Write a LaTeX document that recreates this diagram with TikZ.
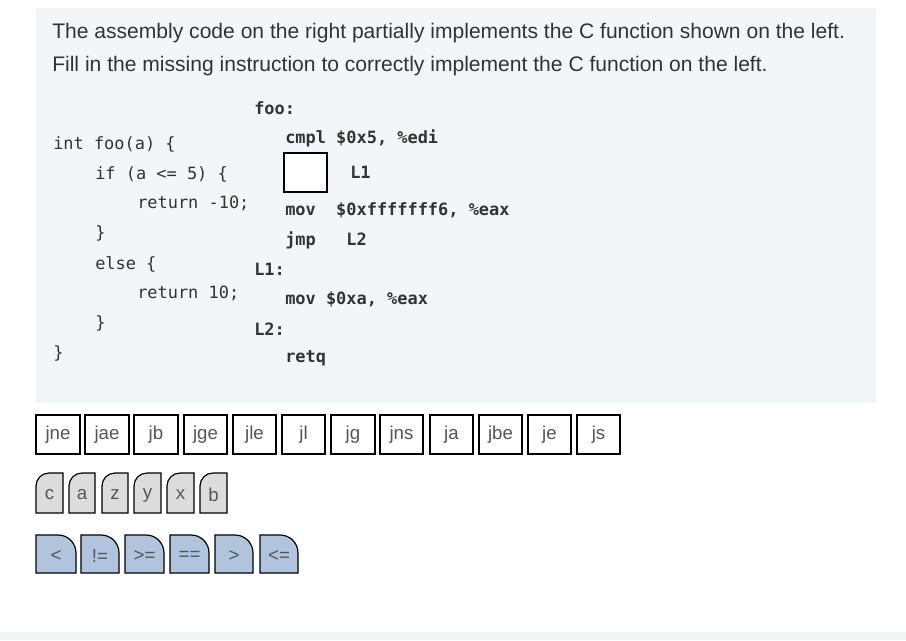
\documentclass[tikz,border=0pt]{standalone}
\usepackage{fontspec}
\setmainfont{Liberation Sans}
\setmonofont{DejaVu Sans Mono}
\definecolor{panel}{HTML}{F3F6F9}
\definecolor{txt}{HTML}{333333}
\definecolor{btxt}{HTML}{555555}
\definecolor{gtile}{HTML}{DCDCDC}
\definecolor{btile}{HTML}{B0C4DE}
\tikzset{
  title/.style={anchor=west,text=txt,font=\fontsize{15.8pt}{18pt}\selectfont,inner sep=0},
  code/.style={anchor=west,text=txt,font=\ttfamily\fontsize{12.7pt}{14pt}\selectfont,inner sep=0},
  asm/.style={code,font=\ttfamily\bfseries\fontsize{12.7pt}{14pt}\selectfont},
  lbl/.style={text=btxt,font=\fontsize{14pt}{16pt}\selectfont,inner sep=0},
  tile/.style={black,line width=0.9pt},
}
\newcommand\jbtn[4]{\draw[tile,fill=white] (#1,415) rectangle (#2,454);
  \node[lbl] (#4) at ({(#1+#2)/2},434.5) {#3};}
\newcommand\gbtn[4]{\draw[tile,fill=gtile] (#1,513) -- (#1,486) .. controls (#1,478.8) and ({#1+5.8},473) .. ({#1+13},473) -- (#2,473) -- (#2,513) -- cycle;
  \node[lbl] (#4) at ({(#1+#2)/2},495) {#3};}
\newcommand\bbtn[4]{\draw[tile,fill=btile] (#1,573) -- (#1,535) -- ({#2-18},535) .. controls ({#2-8},535) and (#2,543) .. (#2,553) -- (#2,573) -- cycle;
  \node[lbl] (#4) at ({(#1+#2)/2},556) {#3};}
\begin{document}
\begin{tikzpicture}[x=0.75pt,y=-0.75pt]
\useasboundingbox (0,0) rectangle (906,640);
\fill[white] (0,0) rectangle (906,640);
\fill[panel] (0,632) rectangle (906,640);
\fill[panel] (36,8) rectangle (876,403);
\node[title] (t1) at (52,33) {The assembly code on the right partially implements the C function shown on the left.};
\node[title] (t2) at (52,66) {Fill in the missing instruction to correctly implement the C function on the left.};
% C code
\node[code] (c1) at (53,144) {int foo(a) \{};
\node[code] (c2) at (95,174) {if (a <= 5) \{};
\node[code] (c3) at (137,203) {return -10;};
\node[code] (c4) at (95,233) {\}};
\node[code] (c5) at (95,264) {else \{};
\node[code] (c6) at (137,293) {return 10;};
\node[code] (c7) at (95,323) {\}};
\node[code] (c8) at (53,353) {\}};
% asm
\node[asm] (a0) at (254,108) {foo:};
\node[asm] (a1) at (285,138) {cmpl \$0x5, \%edi};
\draw[black,line width=0.8pt,fill=white] (284,153) rectangle (327,192);
\node[asm] (a2) at (350,172) {L1};
\node[asm] (a3) at (285,210) {mov\ \ \$0xfffffff6, \%eax};
\node[asm] (a4) at (285,240) {jmp\ \ \ L2};
\node[asm] (a5) at (254,269) {L1:};
\node[asm] (a6) at (285,299) {mov \$0xa, \%eax};
\node[asm] (a7) at (254,329) {L2:};
\node[asm] (a8) at (285,358) {retq};
% buttons
\jbtn{36}{80}{jne}{b1}\jbtn{85}{129}{jae}{b2}\jbtn{134}{178}{jb}{b3}\jbtn{184}{227}{jge}{b4}
\jbtn{233}{276}{jle}{b5}\jbtn{282}{325}{jl}{b6}\jbtn{331}{375}{jg}{b7}\jbtn{380}{423}{jns}{b8}
\jbtn{430}{473}{ja}{b9}\jbtn{479}{522}{jbe}{b10}\jbtn{528}{571}{je}{b11}\jbtn{577}{620}{js}{b12}
\gbtn{36}{63}{c}{g1}\gbtn{69}{95}{a}{g2}\gbtn{102}{128}{z}{g3}\gbtn{134}{161}{y}{g4}\gbtn{167}{194}{x}{g5}\gbtn{200}{227}{b}{g6}
\bbtn{36}{76}{<}{o1}\bbtn{81}{119}{!=}{o2}\bbtn{125}{164}{>=}{o3}\bbtn{170}{209}{==}{o4}\bbtn{215}{253}{>}{o5}\bbtn{260}{298}{<=}{o6}
\end{tikzpicture}
\end{document}
